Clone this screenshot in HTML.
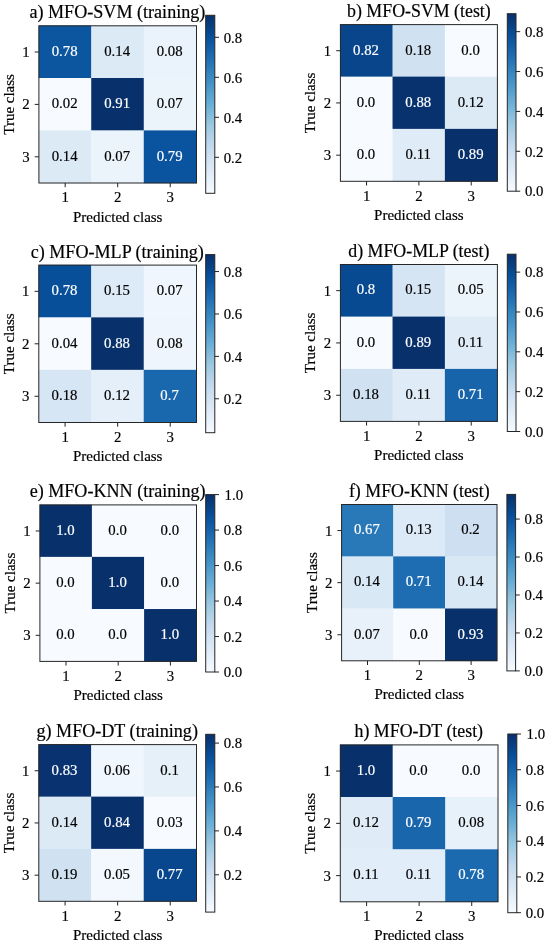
<!DOCTYPE html><html><head><meta charset="utf-8"><title>Confusion matrices</title>
<style>html,body{margin:0;padding:0;background:#fff}svg{display:block}text{font-family:'Liberation Serif', serif;fill:#000;stroke:#000;stroke-width:.18px}</style></head><body>
<svg width="550" height="945" viewBox="0 0 550 945">
<rect width="550" height="945" fill="#fff"/>
<defs>
<linearGradient id="g0" x1="0" y1="0" x2="0" y2="1"><stop offset="0.0000" stop-color="#08306b"/><stop offset="0.0625" stop-color="#084082"/><stop offset="0.1250" stop-color="#08509b"/><stop offset="0.1875" stop-color="#1460a8"/><stop offset="0.2500" stop-color="#2070b4"/><stop offset="0.3125" stop-color="#3181bd"/><stop offset="0.3750" stop-color="#4191c6"/><stop offset="0.4375" stop-color="#56a0ce"/><stop offset="0.5000" stop-color="#6aaed6"/><stop offset="0.5625" stop-color="#84bcdb"/><stop offset="0.6250" stop-color="#9dcae1"/><stop offset="0.6875" stop-color="#b2d2e8"/><stop offset="0.7500" stop-color="#c6dbef"/><stop offset="0.8125" stop-color="#d2e3f3"/><stop offset="0.8750" stop-color="#deebf7"/><stop offset="0.9375" stop-color="#eaf3fb"/><stop offset="1.0000" stop-color="#f7fbff"/></linearGradient>
<linearGradient id="g1" x1="0" y1="0" x2="0" y2="1"><stop offset="0.0000" stop-color="#08306b"/><stop offset="0.0625" stop-color="#084082"/><stop offset="0.1250" stop-color="#08509b"/><stop offset="0.1875" stop-color="#1460a8"/><stop offset="0.2500" stop-color="#2070b4"/><stop offset="0.3125" stop-color="#3181bd"/><stop offset="0.3750" stop-color="#4191c6"/><stop offset="0.4375" stop-color="#56a0ce"/><stop offset="0.5000" stop-color="#6aaed6"/><stop offset="0.5625" stop-color="#84bcdb"/><stop offset="0.6250" stop-color="#9dcae1"/><stop offset="0.6875" stop-color="#b2d2e8"/><stop offset="0.7500" stop-color="#c6dbef"/><stop offset="0.8125" stop-color="#d2e3f3"/><stop offset="0.8750" stop-color="#deebf7"/><stop offset="0.9375" stop-color="#eaf3fb"/><stop offset="1.0000" stop-color="#f7fbff"/></linearGradient>
<linearGradient id="g2" x1="0" y1="0" x2="0" y2="1"><stop offset="0.0000" stop-color="#08306b"/><stop offset="0.0625" stop-color="#084082"/><stop offset="0.1250" stop-color="#08509b"/><stop offset="0.1875" stop-color="#1460a8"/><stop offset="0.2500" stop-color="#2070b4"/><stop offset="0.3125" stop-color="#3181bd"/><stop offset="0.3750" stop-color="#4191c6"/><stop offset="0.4375" stop-color="#56a0ce"/><stop offset="0.5000" stop-color="#6aaed6"/><stop offset="0.5625" stop-color="#84bcdb"/><stop offset="0.6250" stop-color="#9dcae1"/><stop offset="0.6875" stop-color="#b2d2e8"/><stop offset="0.7500" stop-color="#c6dbef"/><stop offset="0.8125" stop-color="#d2e3f3"/><stop offset="0.8750" stop-color="#deebf7"/><stop offset="0.9375" stop-color="#eaf3fb"/><stop offset="1.0000" stop-color="#f7fbff"/></linearGradient>
<linearGradient id="g3" x1="0" y1="0" x2="0" y2="1"><stop offset="0.0000" stop-color="#08306b"/><stop offset="0.0625" stop-color="#084082"/><stop offset="0.1250" stop-color="#08509b"/><stop offset="0.1875" stop-color="#1460a8"/><stop offset="0.2500" stop-color="#2070b4"/><stop offset="0.3125" stop-color="#3181bd"/><stop offset="0.3750" stop-color="#4191c6"/><stop offset="0.4375" stop-color="#56a0ce"/><stop offset="0.5000" stop-color="#6aaed6"/><stop offset="0.5625" stop-color="#84bcdb"/><stop offset="0.6250" stop-color="#9dcae1"/><stop offset="0.6875" stop-color="#b2d2e8"/><stop offset="0.7500" stop-color="#c6dbef"/><stop offset="0.8125" stop-color="#d2e3f3"/><stop offset="0.8750" stop-color="#deebf7"/><stop offset="0.9375" stop-color="#eaf3fb"/><stop offset="1.0000" stop-color="#f7fbff"/></linearGradient>
<linearGradient id="g4" x1="0" y1="0" x2="0" y2="1"><stop offset="0.0000" stop-color="#08306b"/><stop offset="0.0625" stop-color="#084082"/><stop offset="0.1250" stop-color="#08509b"/><stop offset="0.1875" stop-color="#1460a8"/><stop offset="0.2500" stop-color="#2070b4"/><stop offset="0.3125" stop-color="#3181bd"/><stop offset="0.3750" stop-color="#4191c6"/><stop offset="0.4375" stop-color="#56a0ce"/><stop offset="0.5000" stop-color="#6aaed6"/><stop offset="0.5625" stop-color="#84bcdb"/><stop offset="0.6250" stop-color="#9dcae1"/><stop offset="0.6875" stop-color="#b2d2e8"/><stop offset="0.7500" stop-color="#c6dbef"/><stop offset="0.8125" stop-color="#d2e3f3"/><stop offset="0.8750" stop-color="#deebf7"/><stop offset="0.9375" stop-color="#eaf3fb"/><stop offset="1.0000" stop-color="#f7fbff"/></linearGradient>
<linearGradient id="g5" x1="0" y1="0" x2="0" y2="1"><stop offset="0.0000" stop-color="#08306b"/><stop offset="0.0625" stop-color="#084082"/><stop offset="0.1250" stop-color="#08509b"/><stop offset="0.1875" stop-color="#1460a8"/><stop offset="0.2500" stop-color="#2070b4"/><stop offset="0.3125" stop-color="#3181bd"/><stop offset="0.3750" stop-color="#4191c6"/><stop offset="0.4375" stop-color="#56a0ce"/><stop offset="0.5000" stop-color="#6aaed6"/><stop offset="0.5625" stop-color="#84bcdb"/><stop offset="0.6250" stop-color="#9dcae1"/><stop offset="0.6875" stop-color="#b2d2e8"/><stop offset="0.7500" stop-color="#c6dbef"/><stop offset="0.8125" stop-color="#d2e3f3"/><stop offset="0.8750" stop-color="#deebf7"/><stop offset="0.9375" stop-color="#eaf3fb"/><stop offset="1.0000" stop-color="#f7fbff"/></linearGradient>
<linearGradient id="g6" x1="0" y1="0" x2="0" y2="1"><stop offset="0.0000" stop-color="#08306b"/><stop offset="0.0625" stop-color="#084082"/><stop offset="0.1250" stop-color="#08509b"/><stop offset="0.1875" stop-color="#1460a8"/><stop offset="0.2500" stop-color="#2070b4"/><stop offset="0.3125" stop-color="#3181bd"/><stop offset="0.3750" stop-color="#4191c6"/><stop offset="0.4375" stop-color="#56a0ce"/><stop offset="0.5000" stop-color="#6aaed6"/><stop offset="0.5625" stop-color="#84bcdb"/><stop offset="0.6250" stop-color="#9dcae1"/><stop offset="0.6875" stop-color="#b2d2e8"/><stop offset="0.7500" stop-color="#c6dbef"/><stop offset="0.8125" stop-color="#d2e3f3"/><stop offset="0.8750" stop-color="#deebf7"/><stop offset="0.9375" stop-color="#eaf3fb"/><stop offset="1.0000" stop-color="#f7fbff"/></linearGradient>
<linearGradient id="g7" x1="0" y1="0" x2="0" y2="1"><stop offset="0.0000" stop-color="#08306b"/><stop offset="0.0625" stop-color="#084082"/><stop offset="0.1250" stop-color="#08509b"/><stop offset="0.1875" stop-color="#1460a8"/><stop offset="0.2500" stop-color="#2070b4"/><stop offset="0.3125" stop-color="#3181bd"/><stop offset="0.3750" stop-color="#4191c6"/><stop offset="0.4375" stop-color="#56a0ce"/><stop offset="0.5000" stop-color="#6aaed6"/><stop offset="0.5625" stop-color="#84bcdb"/><stop offset="0.6250" stop-color="#9dcae1"/><stop offset="0.6875" stop-color="#b2d2e8"/><stop offset="0.7500" stop-color="#c6dbef"/><stop offset="0.8125" stop-color="#d2e3f3"/><stop offset="0.8750" stop-color="#deebf7"/><stop offset="0.9375" stop-color="#eaf3fb"/><stop offset="1.0000" stop-color="#f7fbff"/></linearGradient>
</defs>
<g>
<text x="117.4" y="18.3" font-size="18.10" text-anchor="middle">a) MFO-SVM (training)</text>
<rect x="38.70" y="25.60" width="52.93" height="52.80" fill="#0c56a0"/>
<rect x="91.23" y="25.60" width="52.93" height="52.80" fill="#dceaf6"/>
<rect x="143.77" y="25.60" width="52.93" height="52.80" fill="#eaf2fb"/>
<rect x="38.70" y="78.00" width="52.93" height="52.80" fill="#f7fbff"/>
<rect x="91.23" y="78.00" width="52.93" height="52.80" fill="#08306b"/>
<rect x="143.77" y="78.00" width="52.93" height="52.80" fill="#ecf4fb"/>
<rect x="38.70" y="130.40" width="52.93" height="52.80" fill="#dceaf6"/>
<rect x="91.23" y="130.40" width="52.93" height="52.80" fill="#ecf4fb"/>
<rect x="143.77" y="130.40" width="52.93" height="52.80" fill="#0a539e"/>
<text x="64.6" y="55.8" font-size="14.80" text-anchor="middle" style="fill:#fff;stroke:#fff">0.78</text>
<text x="117.1" y="55.8" font-size="14.80" text-anchor="middle" style="fill:#000;stroke:#000">0.14</text>
<text x="169.6" y="55.8" font-size="14.80" text-anchor="middle" style="fill:#000;stroke:#000">0.08</text>
<text x="64.6" y="108.2" font-size="14.80" text-anchor="middle" style="fill:#000;stroke:#000">0.02</text>
<text x="117.1" y="108.2" font-size="14.80" text-anchor="middle" style="fill:#fff;stroke:#fff">0.91</text>
<text x="169.6" y="108.2" font-size="14.80" text-anchor="middle" style="fill:#000;stroke:#000">0.07</text>
<text x="64.6" y="160.6" font-size="14.80" text-anchor="middle" style="fill:#000;stroke:#000">0.14</text>
<text x="117.1" y="160.6" font-size="14.80" text-anchor="middle" style="fill:#000;stroke:#000">0.07</text>
<text x="169.6" y="160.6" font-size="14.80" text-anchor="middle" style="fill:#fff;stroke:#fff">0.79</text>
<rect x="38.90" y="25.80" width="157.60" height="157.20" fill="none" stroke="#262626" stroke-width="1.0"/>
<line x1="65.17" y1="183.00" x2="65.17" y2="187.20" stroke="#222" stroke-width="1"/>
<line x1="34.70" y1="52.00" x2="38.90" y2="52.00" stroke="#222" stroke-width="1"/>
<text x="65.2" y="202.2" font-size="14.80" text-anchor="middle">1</text>
<text x="29.6" y="57.0" font-size="14.80" text-anchor="end">1</text>
<line x1="117.70" y1="183.00" x2="117.70" y2="187.20" stroke="#222" stroke-width="1"/>
<line x1="34.70" y1="104.40" x2="38.90" y2="104.40" stroke="#222" stroke-width="1"/>
<text x="117.7" y="202.2" font-size="14.80" text-anchor="middle">2</text>
<text x="29.6" y="109.4" font-size="14.80" text-anchor="end">2</text>
<line x1="170.23" y1="183.00" x2="170.23" y2="187.20" stroke="#222" stroke-width="1"/>
<line x1="34.70" y1="156.80" x2="38.90" y2="156.80" stroke="#222" stroke-width="1"/>
<text x="170.2" y="202.2" font-size="14.80" text-anchor="middle">3</text>
<text x="29.6" y="161.8" font-size="14.80" text-anchor="end">3</text>
<text x="117.7" y="221.5" font-size="15.00" text-anchor="middle">Predicted class</text>
<text transform="translate(13.8 104.4) rotate(-90)" font-size="15.00" text-anchor="middle">True class</text>
<rect x="205.70" y="15.30" width="9.10" height="178.00" fill="url(#g0)" stroke="#262626" stroke-width="1.0"/>
<line x1="214.80" y1="157.30" x2="219.00" y2="157.30" stroke="#222" stroke-width="1"/>
<text x="223.7" y="162.5" font-size="14.80">0.2</text>
<line x1="214.80" y1="117.30" x2="219.00" y2="117.30" stroke="#222" stroke-width="1"/>
<text x="223.7" y="122.5" font-size="14.80">0.4</text>
<line x1="214.80" y1="77.30" x2="219.00" y2="77.30" stroke="#222" stroke-width="1"/>
<text x="223.7" y="82.5" font-size="14.80">0.6</text>
<line x1="214.80" y1="37.30" x2="219.00" y2="37.30" stroke="#222" stroke-width="1"/>
<text x="223.7" y="42.5" font-size="14.80">0.8</text>
</g>
<g>
<text x="418.9" y="16.9" font-size="17.85" text-anchor="middle">b) MFO-SVM (test)</text>
<rect x="340.20" y="24.40" width="52.73" height="52.63" fill="#08458a"/>
<rect x="392.53" y="24.40" width="52.73" height="52.63" fill="#d0e1f2"/>
<rect x="444.87" y="24.40" width="52.73" height="52.63" fill="#f7fbff"/>
<rect x="340.20" y="76.63" width="52.73" height="52.63" fill="#f7fbff"/>
<rect x="392.53" y="76.63" width="52.73" height="52.63" fill="#08326e"/>
<rect x="444.87" y="76.63" width="52.73" height="52.63" fill="#dceaf6"/>
<rect x="340.20" y="128.87" width="52.73" height="52.63" fill="#f7fbff"/>
<rect x="392.53" y="128.87" width="52.73" height="52.63" fill="#dfebf7"/>
<rect x="444.87" y="128.87" width="52.73" height="52.63" fill="#08306b"/>
<text x="366.0" y="54.5" font-size="14.80" text-anchor="middle" style="fill:#fff;stroke:#fff">0.82</text>
<text x="418.3" y="54.5" font-size="14.80" text-anchor="middle" style="fill:#000;stroke:#000">0.18</text>
<text x="470.6" y="54.5" font-size="14.80" text-anchor="middle" style="fill:#000;stroke:#000">0.0</text>
<text x="366.0" y="106.8" font-size="14.80" text-anchor="middle" style="fill:#000;stroke:#000">0.0</text>
<text x="418.3" y="106.8" font-size="14.80" text-anchor="middle" style="fill:#fff;stroke:#fff">0.88</text>
<text x="470.6" y="106.8" font-size="14.80" text-anchor="middle" style="fill:#000;stroke:#000">0.12</text>
<text x="366.0" y="159.0" font-size="14.80" text-anchor="middle" style="fill:#000;stroke:#000">0.0</text>
<text x="418.3" y="159.0" font-size="14.80" text-anchor="middle" style="fill:#000;stroke:#000">0.11</text>
<text x="470.6" y="159.0" font-size="14.80" text-anchor="middle" style="fill:#fff;stroke:#fff">0.89</text>
<rect x="340.40" y="24.60" width="157.00" height="156.70" fill="none" stroke="#262626" stroke-width="1.0"/>
<line x1="366.57" y1="181.30" x2="366.57" y2="185.50" stroke="#222" stroke-width="1"/>
<line x1="336.20" y1="50.72" x2="340.40" y2="50.72" stroke="#222" stroke-width="1"/>
<text x="366.6" y="200.5" font-size="14.80" text-anchor="middle">1</text>
<text x="331.1" y="55.7" font-size="14.80" text-anchor="end">1</text>
<line x1="418.90" y1="181.30" x2="418.90" y2="185.50" stroke="#222" stroke-width="1"/>
<line x1="336.20" y1="102.95" x2="340.40" y2="102.95" stroke="#222" stroke-width="1"/>
<text x="418.9" y="200.5" font-size="14.80" text-anchor="middle">2</text>
<text x="331.1" y="108.0" font-size="14.80" text-anchor="end">2</text>
<line x1="471.23" y1="181.30" x2="471.23" y2="185.50" stroke="#222" stroke-width="1"/>
<line x1="336.20" y1="155.18" x2="340.40" y2="155.18" stroke="#222" stroke-width="1"/>
<text x="471.2" y="200.5" font-size="14.80" text-anchor="middle">3</text>
<text x="331.1" y="160.2" font-size="14.80" text-anchor="end">3</text>
<text x="418.9" y="219.8" font-size="15.00" text-anchor="middle">Predicted class</text>
<text transform="translate(315.3 103.0) rotate(-90)" font-size="15.00" text-anchor="middle">True class</text>
<rect x="507.30" y="13.70" width="8.70" height="177.50" fill="url(#g1)" stroke="#262626" stroke-width="1.0"/>
<line x1="516.00" y1="191.20" x2="520.20" y2="191.20" stroke="#222" stroke-width="1"/>
<text x="524.9" y="196.4" font-size="14.80">0.0</text>
<line x1="516.00" y1="151.31" x2="520.20" y2="151.31" stroke="#222" stroke-width="1"/>
<text x="524.9" y="156.5" font-size="14.80">0.2</text>
<line x1="516.00" y1="111.42" x2="520.20" y2="111.42" stroke="#222" stroke-width="1"/>
<text x="524.9" y="116.6" font-size="14.80">0.4</text>
<line x1="516.00" y1="71.54" x2="520.20" y2="71.54" stroke="#222" stroke-width="1"/>
<text x="524.9" y="76.7" font-size="14.80">0.6</text>
<line x1="516.00" y1="31.65" x2="520.20" y2="31.65" stroke="#222" stroke-width="1"/>
<text x="524.9" y="36.8" font-size="14.80">0.8</text>
</g>
<g>
<text x="117.3" y="257.6" font-size="18.10" text-anchor="middle">c) MFO-MLP (training)</text>
<rect x="38.60" y="264.90" width="52.97" height="52.87" fill="#084f99"/>
<rect x="91.17" y="264.90" width="52.97" height="52.87" fill="#ddeaf7"/>
<rect x="143.73" y="264.90" width="52.97" height="52.87" fill="#f0f6fd"/>
<rect x="38.60" y="317.37" width="52.97" height="52.87" fill="#f7fbff"/>
<rect x="91.17" y="317.37" width="52.97" height="52.87" fill="#08306b"/>
<rect x="143.73" y="317.37" width="52.97" height="52.87" fill="#eef5fc"/>
<rect x="38.60" y="369.83" width="52.97" height="52.87" fill="#d6e6f4"/>
<rect x="91.17" y="369.83" width="52.97" height="52.87" fill="#e4eff9"/>
<rect x="143.73" y="369.83" width="52.97" height="52.87" fill="#1967ad"/>
<text x="64.5" y="295.1" font-size="14.80" text-anchor="middle" style="fill:#fff;stroke:#fff">0.78</text>
<text x="117.0" y="295.1" font-size="14.80" text-anchor="middle" style="fill:#000;stroke:#000">0.15</text>
<text x="169.6" y="295.1" font-size="14.80" text-anchor="middle" style="fill:#000;stroke:#000">0.07</text>
<text x="64.5" y="347.6" font-size="14.80" text-anchor="middle" style="fill:#000;stroke:#000">0.04</text>
<text x="117.0" y="347.6" font-size="14.80" text-anchor="middle" style="fill:#fff;stroke:#fff">0.88</text>
<text x="169.6" y="347.6" font-size="14.80" text-anchor="middle" style="fill:#000;stroke:#000">0.08</text>
<text x="64.5" y="400.1" font-size="14.80" text-anchor="middle" style="fill:#000;stroke:#000">0.18</text>
<text x="117.0" y="400.1" font-size="14.80" text-anchor="middle" style="fill:#000;stroke:#000">0.12</text>
<text x="169.6" y="400.1" font-size="14.80" text-anchor="middle" style="fill:#fff;stroke:#fff">0.7</text>
<rect x="38.80" y="265.10" width="157.70" height="157.40" fill="none" stroke="#262626" stroke-width="1.0"/>
<line x1="65.08" y1="422.50" x2="65.08" y2="426.70" stroke="#222" stroke-width="1"/>
<line x1="34.60" y1="291.33" x2="38.80" y2="291.33" stroke="#222" stroke-width="1"/>
<text x="65.1" y="441.7" font-size="14.80" text-anchor="middle">1</text>
<text x="29.5" y="296.3" font-size="14.80" text-anchor="end">1</text>
<line x1="117.65" y1="422.50" x2="117.65" y2="426.70" stroke="#222" stroke-width="1"/>
<line x1="34.60" y1="343.80" x2="38.80" y2="343.80" stroke="#222" stroke-width="1"/>
<text x="117.6" y="441.7" font-size="14.80" text-anchor="middle">2</text>
<text x="29.5" y="348.8" font-size="14.80" text-anchor="end">2</text>
<line x1="170.22" y1="422.50" x2="170.22" y2="426.70" stroke="#222" stroke-width="1"/>
<line x1="34.60" y1="396.27" x2="38.80" y2="396.27" stroke="#222" stroke-width="1"/>
<text x="170.2" y="441.7" font-size="14.80" text-anchor="middle">3</text>
<text x="29.5" y="401.3" font-size="14.80" text-anchor="end">3</text>
<text x="117.7" y="461.0" font-size="15.00" text-anchor="middle">Predicted class</text>
<text transform="translate(13.7 343.8) rotate(-90)" font-size="15.00" text-anchor="middle">True class</text>
<rect x="205.70" y="254.60" width="9.10" height="178.10" fill="url(#g2)" stroke="#262626" stroke-width="1.0"/>
<line x1="214.80" y1="398.78" x2="219.00" y2="398.78" stroke="#222" stroke-width="1"/>
<text x="223.7" y="404.0" font-size="14.80">0.2</text>
<line x1="214.80" y1="356.37" x2="219.00" y2="356.37" stroke="#222" stroke-width="1"/>
<text x="223.7" y="361.6" font-size="14.80">0.4</text>
<line x1="214.80" y1="313.97" x2="219.00" y2="313.97" stroke="#222" stroke-width="1"/>
<text x="223.7" y="319.2" font-size="14.80">0.6</text>
<line x1="214.80" y1="271.56" x2="219.00" y2="271.56" stroke="#222" stroke-width="1"/>
<text x="223.7" y="276.8" font-size="14.80">0.8</text>
</g>
<g>
<text x="418.8" y="256.9" font-size="17.85" text-anchor="middle">d) MFO-MLP (test)</text>
<rect x="340.20" y="264.30" width="52.73" height="52.70" fill="#084a91"/>
<rect x="392.53" y="264.30" width="52.73" height="52.70" fill="#d6e5f4"/>
<rect x="444.87" y="264.30" width="52.73" height="52.70" fill="#ecf4fb"/>
<rect x="340.20" y="316.60" width="52.73" height="52.70" fill="#f7fbff"/>
<rect x="392.53" y="316.60" width="52.73" height="52.70" fill="#08306b"/>
<rect x="444.87" y="316.60" width="52.73" height="52.70" fill="#dfebf7"/>
<rect x="340.20" y="368.90" width="52.73" height="52.70" fill="#d0e1f2"/>
<rect x="392.53" y="368.90" width="52.73" height="52.70" fill="#dfebf7"/>
<rect x="444.87" y="368.90" width="52.73" height="52.70" fill="#1764ab"/>
<text x="366.0" y="294.4" font-size="14.80" text-anchor="middle" style="fill:#fff;stroke:#fff">0.8</text>
<text x="418.3" y="294.4" font-size="14.80" text-anchor="middle" style="fill:#000;stroke:#000">0.15</text>
<text x="470.6" y="294.4" font-size="14.80" text-anchor="middle" style="fill:#000;stroke:#000">0.05</text>
<text x="366.0" y="346.8" font-size="14.80" text-anchor="middle" style="fill:#000;stroke:#000">0.0</text>
<text x="418.3" y="346.8" font-size="14.80" text-anchor="middle" style="fill:#fff;stroke:#fff">0.89</text>
<text x="470.6" y="346.8" font-size="14.80" text-anchor="middle" style="fill:#000;stroke:#000">0.11</text>
<text x="366.0" y="399.1" font-size="14.80" text-anchor="middle" style="fill:#000;stroke:#000">0.18</text>
<text x="418.3" y="399.1" font-size="14.80" text-anchor="middle" style="fill:#000;stroke:#000">0.11</text>
<text x="470.6" y="399.1" font-size="14.80" text-anchor="middle" style="fill:#fff;stroke:#fff">0.71</text>
<rect x="340.40" y="264.50" width="157.00" height="156.90" fill="none" stroke="#262626" stroke-width="1.0"/>
<line x1="366.57" y1="421.40" x2="366.57" y2="425.60" stroke="#222" stroke-width="1"/>
<line x1="336.20" y1="290.65" x2="340.40" y2="290.65" stroke="#222" stroke-width="1"/>
<text x="366.6" y="440.6" font-size="14.80" text-anchor="middle">1</text>
<text x="331.1" y="295.6" font-size="14.80" text-anchor="end">1</text>
<line x1="418.90" y1="421.40" x2="418.90" y2="425.60" stroke="#222" stroke-width="1"/>
<line x1="336.20" y1="342.95" x2="340.40" y2="342.95" stroke="#222" stroke-width="1"/>
<text x="418.9" y="440.6" font-size="14.80" text-anchor="middle">2</text>
<text x="331.1" y="347.9" font-size="14.80" text-anchor="end">2</text>
<line x1="471.23" y1="421.40" x2="471.23" y2="425.60" stroke="#222" stroke-width="1"/>
<line x1="336.20" y1="395.25" x2="340.40" y2="395.25" stroke="#222" stroke-width="1"/>
<text x="471.2" y="440.6" font-size="14.80" text-anchor="middle">3</text>
<text x="331.1" y="400.2" font-size="14.80" text-anchor="end">3</text>
<text x="418.9" y="459.9" font-size="15.00" text-anchor="middle">Predicted class</text>
<text transform="translate(315.3 342.9) rotate(-90)" font-size="15.00" text-anchor="middle">True class</text>
<rect x="507.30" y="254.20" width="8.70" height="177.30" fill="url(#g3)" stroke="#262626" stroke-width="1.0"/>
<line x1="516.00" y1="431.50" x2="520.20" y2="431.50" stroke="#222" stroke-width="1"/>
<text x="524.9" y="436.7" font-size="14.80">0.0</text>
<line x1="516.00" y1="391.66" x2="520.20" y2="391.66" stroke="#222" stroke-width="1"/>
<text x="524.9" y="396.9" font-size="14.80">0.2</text>
<line x1="516.00" y1="351.81" x2="520.20" y2="351.81" stroke="#222" stroke-width="1"/>
<text x="524.9" y="357.0" font-size="14.80">0.4</text>
<line x1="516.00" y1="311.97" x2="520.20" y2="311.97" stroke="#222" stroke-width="1"/>
<text x="524.9" y="317.2" font-size="14.80">0.6</text>
<line x1="516.00" y1="272.13" x2="520.20" y2="272.13" stroke="#222" stroke-width="1"/>
<text x="524.9" y="277.3" font-size="14.80">0.8</text>
</g>
<g>
<text x="117.6" y="496.7" font-size="18.10" text-anchor="middle">e) MFO-KNN (training)</text>
<rect x="39.70" y="504.70" width="52.60" height="52.57" fill="#08306b"/>
<rect x="91.90" y="504.70" width="52.60" height="52.57" fill="#f7fbff"/>
<rect x="144.10" y="504.70" width="52.60" height="52.57" fill="#f7fbff"/>
<rect x="39.70" y="556.87" width="52.60" height="52.57" fill="#f7fbff"/>
<rect x="91.90" y="556.87" width="52.60" height="52.57" fill="#08306b"/>
<rect x="144.10" y="556.87" width="52.60" height="52.57" fill="#f7fbff"/>
<rect x="39.70" y="609.03" width="52.60" height="52.57" fill="#f7fbff"/>
<rect x="91.90" y="609.03" width="52.60" height="52.57" fill="#f7fbff"/>
<rect x="144.10" y="609.03" width="52.60" height="52.57" fill="#08306b"/>
<text x="65.4" y="534.8" font-size="14.80" text-anchor="middle" style="fill:#fff;stroke:#fff">1.0</text>
<text x="117.6" y="534.8" font-size="14.80" text-anchor="middle" style="fill:#000;stroke:#000">0.0</text>
<text x="169.8" y="534.8" font-size="14.80" text-anchor="middle" style="fill:#000;stroke:#000">0.0</text>
<text x="65.4" y="586.9" font-size="14.80" text-anchor="middle" style="fill:#000;stroke:#000">0.0</text>
<text x="117.6" y="586.9" font-size="14.80" text-anchor="middle" style="fill:#fff;stroke:#fff">1.0</text>
<text x="169.8" y="586.9" font-size="14.80" text-anchor="middle" style="fill:#000;stroke:#000">0.0</text>
<text x="65.4" y="639.1" font-size="14.80" text-anchor="middle" style="fill:#000;stroke:#000">0.0</text>
<text x="117.6" y="639.1" font-size="14.80" text-anchor="middle" style="fill:#000;stroke:#000">0.0</text>
<text x="169.8" y="639.1" font-size="14.80" text-anchor="middle" style="fill:#fff;stroke:#fff">1.0</text>
<rect x="39.90" y="504.90" width="156.60" height="156.50" fill="none" stroke="#262626" stroke-width="1.0"/>
<line x1="66.00" y1="661.40" x2="66.00" y2="665.60" stroke="#222" stroke-width="1"/>
<line x1="35.70" y1="530.98" x2="39.90" y2="530.98" stroke="#222" stroke-width="1"/>
<text x="66.0" y="680.6" font-size="14.80" text-anchor="middle">1</text>
<text x="30.6" y="536.0" font-size="14.80" text-anchor="end">1</text>
<line x1="118.20" y1="661.40" x2="118.20" y2="665.60" stroke="#222" stroke-width="1"/>
<line x1="35.70" y1="583.15" x2="39.90" y2="583.15" stroke="#222" stroke-width="1"/>
<text x="118.2" y="680.6" font-size="14.80" text-anchor="middle">2</text>
<text x="30.6" y="588.1" font-size="14.80" text-anchor="end">2</text>
<line x1="170.40" y1="661.40" x2="170.40" y2="665.60" stroke="#222" stroke-width="1"/>
<line x1="35.70" y1="635.32" x2="39.90" y2="635.32" stroke="#222" stroke-width="1"/>
<text x="170.4" y="680.6" font-size="14.80" text-anchor="middle">3</text>
<text x="30.6" y="640.3" font-size="14.80" text-anchor="end">3</text>
<text x="118.2" y="699.9" font-size="15.00" text-anchor="middle">Predicted class</text>
<text transform="translate(14.8 583.1) rotate(-90)" font-size="15.00" text-anchor="middle">True class</text>
<rect x="205.70" y="494.60" width="9.10" height="177.40" fill="url(#g4)" stroke="#262626" stroke-width="1.0"/>
<line x1="214.80" y1="672.00" x2="219.00" y2="672.00" stroke="#222" stroke-width="1"/>
<text x="223.7" y="677.2" font-size="14.80">0.0</text>
<line x1="214.80" y1="636.52" x2="219.00" y2="636.52" stroke="#222" stroke-width="1"/>
<text x="223.7" y="641.7" font-size="14.80">0.2</text>
<line x1="214.80" y1="601.04" x2="219.00" y2="601.04" stroke="#222" stroke-width="1"/>
<text x="223.7" y="606.2" font-size="14.80">0.4</text>
<line x1="214.80" y1="565.56" x2="219.00" y2="565.56" stroke="#222" stroke-width="1"/>
<text x="223.7" y="570.8" font-size="14.80">0.6</text>
<line x1="214.80" y1="530.08" x2="219.00" y2="530.08" stroke="#222" stroke-width="1"/>
<text x="223.7" y="535.3" font-size="14.80">0.8</text>
<line x1="214.80" y1="494.60" x2="219.00" y2="494.60" stroke="#222" stroke-width="1"/>
<text x="224.6" y="499.8" font-size="14.80">1.0</text>
</g>
<g>
<text x="419.3" y="496.7" font-size="17.85" text-anchor="middle">f) MFO-KNN (test)</text>
<rect x="341.40" y="504.30" width="52.20" height="52.50" fill="#2979b9"/>
<rect x="393.20" y="504.30" width="52.20" height="52.50" fill="#dce9f6"/>
<rect x="445.00" y="504.30" width="52.20" height="52.50" fill="#cddff1"/>
<rect x="341.40" y="556.40" width="52.20" height="52.50" fill="#d9e8f5"/>
<rect x="393.20" y="556.40" width="52.20" height="52.50" fill="#1e6db2"/>
<rect x="445.00" y="556.40" width="52.20" height="52.50" fill="#d9e8f5"/>
<rect x="341.40" y="608.50" width="52.20" height="52.50" fill="#e8f1fa"/>
<rect x="393.20" y="608.50" width="52.20" height="52.50" fill="#f7fbff"/>
<rect x="445.00" y="608.50" width="52.20" height="52.50" fill="#08306b"/>
<text x="366.9" y="534.3" font-size="14.80" text-anchor="middle" style="fill:#fff;stroke:#fff">0.67</text>
<text x="418.7" y="534.3" font-size="14.80" text-anchor="middle" style="fill:#000;stroke:#000">0.13</text>
<text x="470.5" y="534.3" font-size="14.80" text-anchor="middle" style="fill:#000;stroke:#000">0.2</text>
<text x="366.9" y="586.4" font-size="14.80" text-anchor="middle" style="fill:#000;stroke:#000">0.14</text>
<text x="418.7" y="586.4" font-size="14.80" text-anchor="middle" style="fill:#fff;stroke:#fff">0.71</text>
<text x="470.5" y="586.4" font-size="14.80" text-anchor="middle" style="fill:#000;stroke:#000">0.14</text>
<text x="366.9" y="638.5" font-size="14.80" text-anchor="middle" style="fill:#000;stroke:#000">0.07</text>
<text x="418.7" y="638.5" font-size="14.80" text-anchor="middle" style="fill:#000;stroke:#000">0.0</text>
<text x="470.5" y="638.5" font-size="14.80" text-anchor="middle" style="fill:#fff;stroke:#fff">0.93</text>
<rect x="341.60" y="504.50" width="155.40" height="156.30" fill="none" stroke="#262626" stroke-width="1.0"/>
<line x1="367.50" y1="660.80" x2="367.50" y2="665.00" stroke="#222" stroke-width="1"/>
<line x1="337.40" y1="530.55" x2="341.60" y2="530.55" stroke="#222" stroke-width="1"/>
<text x="367.5" y="680.0" font-size="14.80" text-anchor="middle">1</text>
<text x="332.3" y="535.5" font-size="14.80" text-anchor="end">1</text>
<line x1="419.30" y1="660.80" x2="419.30" y2="665.00" stroke="#222" stroke-width="1"/>
<line x1="337.40" y1="582.65" x2="341.60" y2="582.65" stroke="#222" stroke-width="1"/>
<text x="419.3" y="680.0" font-size="14.80" text-anchor="middle">2</text>
<text x="332.3" y="587.6" font-size="14.80" text-anchor="end">2</text>
<line x1="471.10" y1="660.80" x2="471.10" y2="665.00" stroke="#222" stroke-width="1"/>
<line x1="337.40" y1="634.75" x2="341.60" y2="634.75" stroke="#222" stroke-width="1"/>
<text x="471.1" y="680.0" font-size="14.80" text-anchor="middle">3</text>
<text x="332.3" y="639.8" font-size="14.80" text-anchor="end">3</text>
<text x="419.3" y="699.3" font-size="15.00" text-anchor="middle">Predicted class</text>
<text transform="translate(316.5 582.6) rotate(-90)" font-size="15.00" text-anchor="middle">True class</text>
<rect x="506.90" y="494.40" width="8.70" height="176.50" fill="url(#g5)" stroke="#262626" stroke-width="1.0"/>
<line x1="515.60" y1="670.90" x2="519.80" y2="670.90" stroke="#222" stroke-width="1"/>
<text x="524.5" y="676.1" font-size="14.80">0.0</text>
<line x1="515.60" y1="632.94" x2="519.80" y2="632.94" stroke="#222" stroke-width="1"/>
<text x="524.5" y="638.1" font-size="14.80">0.2</text>
<line x1="515.60" y1="594.99" x2="519.80" y2="594.99" stroke="#222" stroke-width="1"/>
<text x="524.5" y="600.2" font-size="14.80">0.4</text>
<line x1="515.60" y1="557.03" x2="519.80" y2="557.03" stroke="#222" stroke-width="1"/>
<text x="524.5" y="562.2" font-size="14.80">0.6</text>
<line x1="515.60" y1="519.07" x2="519.80" y2="519.07" stroke="#222" stroke-width="1"/>
<text x="524.5" y="524.3" font-size="14.80">0.8</text>
</g>
<g>
<text x="117.2" y="736.6" font-size="18.10" text-anchor="middle">g) MFO-DT (training)</text>
<rect x="38.60" y="744.40" width="52.97" height="52.63" fill="#083370"/>
<rect x="91.17" y="744.40" width="52.97" height="52.63" fill="#f0f6fd"/>
<rect x="143.73" y="744.40" width="52.97" height="52.63" fill="#e6f0f9"/>
<rect x="38.60" y="796.63" width="52.97" height="52.63" fill="#dceaf6"/>
<rect x="91.17" y="796.63" width="52.97" height="52.63" fill="#08306b"/>
<rect x="143.73" y="796.63" width="52.97" height="52.63" fill="#f7fbff"/>
<rect x="38.60" y="848.87" width="52.97" height="52.63" fill="#d0e2f2"/>
<rect x="91.17" y="848.87" width="52.97" height="52.63" fill="#f2f8fd"/>
<rect x="143.73" y="848.87" width="52.97" height="52.63" fill="#08478d"/>
<text x="64.5" y="774.5" font-size="14.80" text-anchor="middle" style="fill:#fff;stroke:#fff">0.83</text>
<text x="117.0" y="774.5" font-size="14.80" text-anchor="middle" style="fill:#000;stroke:#000">0.06</text>
<text x="169.6" y="774.5" font-size="14.80" text-anchor="middle" style="fill:#000;stroke:#000">0.1</text>
<text x="64.5" y="826.8" font-size="14.80" text-anchor="middle" style="fill:#000;stroke:#000">0.14</text>
<text x="117.0" y="826.8" font-size="14.80" text-anchor="middle" style="fill:#fff;stroke:#fff">0.84</text>
<text x="169.6" y="826.8" font-size="14.80" text-anchor="middle" style="fill:#000;stroke:#000">0.03</text>
<text x="64.5" y="879.0" font-size="14.80" text-anchor="middle" style="fill:#000;stroke:#000">0.19</text>
<text x="117.0" y="879.0" font-size="14.80" text-anchor="middle" style="fill:#000;stroke:#000">0.05</text>
<text x="169.6" y="879.0" font-size="14.80" text-anchor="middle" style="fill:#fff;stroke:#fff">0.77</text>
<rect x="38.80" y="744.60" width="157.70" height="156.70" fill="none" stroke="#262626" stroke-width="1.0"/>
<line x1="65.08" y1="901.30" x2="65.08" y2="905.50" stroke="#222" stroke-width="1"/>
<line x1="34.60" y1="770.72" x2="38.80" y2="770.72" stroke="#222" stroke-width="1"/>
<text x="65.1" y="920.5" font-size="14.80" text-anchor="middle">1</text>
<text x="29.5" y="775.7" font-size="14.80" text-anchor="end">1</text>
<line x1="117.65" y1="901.30" x2="117.65" y2="905.50" stroke="#222" stroke-width="1"/>
<line x1="34.60" y1="822.95" x2="38.80" y2="822.95" stroke="#222" stroke-width="1"/>
<text x="117.6" y="920.5" font-size="14.80" text-anchor="middle">2</text>
<text x="29.5" y="828.0" font-size="14.80" text-anchor="end">2</text>
<line x1="170.22" y1="901.30" x2="170.22" y2="905.50" stroke="#222" stroke-width="1"/>
<line x1="34.60" y1="875.18" x2="38.80" y2="875.18" stroke="#222" stroke-width="1"/>
<text x="170.2" y="920.5" font-size="14.80" text-anchor="middle">3</text>
<text x="29.5" y="880.2" font-size="14.80" text-anchor="end">3</text>
<text x="117.7" y="939.8" font-size="15.00" text-anchor="middle">Predicted class</text>
<text transform="translate(13.7 823.0) rotate(-90)" font-size="15.00" text-anchor="middle">True class</text>
<rect x="205.70" y="734.30" width="9.10" height="177.80" fill="url(#g6)" stroke="#262626" stroke-width="1.0"/>
<line x1="214.80" y1="874.78" x2="219.00" y2="874.78" stroke="#222" stroke-width="1"/>
<text x="223.7" y="880.0" font-size="14.80">0.2</text>
<line x1="214.80" y1="830.88" x2="219.00" y2="830.88" stroke="#222" stroke-width="1"/>
<text x="223.7" y="836.1" font-size="14.80">0.4</text>
<line x1="214.80" y1="786.98" x2="219.00" y2="786.98" stroke="#222" stroke-width="1"/>
<text x="223.7" y="792.2" font-size="14.80">0.6</text>
<line x1="214.80" y1="743.08" x2="219.00" y2="743.08" stroke="#222" stroke-width="1"/>
<text x="223.7" y="748.3" font-size="14.80">0.8</text>
</g>
<g>
<text x="418.8" y="736.9" font-size="17.85" text-anchor="middle">h) MFO-DT (test)</text>
<rect x="340.10" y="744.70" width="52.97" height="52.70" fill="#08306b"/>
<rect x="392.67" y="744.70" width="52.97" height="52.70" fill="#f7fbff"/>
<rect x="445.23" y="744.70" width="52.97" height="52.70" fill="#f7fbff"/>
<rect x="340.10" y="797.00" width="52.97" height="52.70" fill="#dfecf7"/>
<rect x="392.67" y="797.00" width="52.97" height="52.70" fill="#1966ad"/>
<rect x="445.23" y="797.00" width="52.97" height="52.70" fill="#e7f1fa"/>
<rect x="340.10" y="849.30" width="52.97" height="52.70" fill="#e1edf8"/>
<rect x="392.67" y="849.30" width="52.97" height="52.70" fill="#e1edf8"/>
<rect x="445.23" y="849.30" width="52.97" height="52.70" fill="#1b69af"/>
<text x="366.0" y="774.8" font-size="14.80" text-anchor="middle" style="fill:#fff;stroke:#fff">1.0</text>
<text x="418.5" y="774.8" font-size="14.80" text-anchor="middle" style="fill:#000;stroke:#000">0.0</text>
<text x="471.1" y="774.8" font-size="14.80" text-anchor="middle" style="fill:#000;stroke:#000">0.0</text>
<text x="366.0" y="827.1" font-size="14.80" text-anchor="middle" style="fill:#000;stroke:#000">0.12</text>
<text x="418.5" y="827.1" font-size="14.80" text-anchor="middle" style="fill:#fff;stroke:#fff">0.79</text>
<text x="471.1" y="827.1" font-size="14.80" text-anchor="middle" style="fill:#000;stroke:#000">0.08</text>
<text x="366.0" y="879.4" font-size="14.80" text-anchor="middle" style="fill:#000;stroke:#000">0.11</text>
<text x="418.5" y="879.4" font-size="14.80" text-anchor="middle" style="fill:#000;stroke:#000">0.11</text>
<text x="471.1" y="879.4" font-size="14.80" text-anchor="middle" style="fill:#fff;stroke:#fff">0.78</text>
<rect x="340.30" y="744.90" width="157.70" height="156.90" fill="none" stroke="#262626" stroke-width="1.0"/>
<line x1="366.58" y1="901.80" x2="366.58" y2="906.00" stroke="#222" stroke-width="1"/>
<line x1="336.10" y1="771.05" x2="340.30" y2="771.05" stroke="#222" stroke-width="1"/>
<text x="366.6" y="921.0" font-size="14.80" text-anchor="middle">1</text>
<text x="331.0" y="776.0" font-size="14.80" text-anchor="end">1</text>
<line x1="419.15" y1="901.80" x2="419.15" y2="906.00" stroke="#222" stroke-width="1"/>
<line x1="336.10" y1="823.35" x2="340.30" y2="823.35" stroke="#222" stroke-width="1"/>
<text x="419.1" y="921.0" font-size="14.80" text-anchor="middle">2</text>
<text x="331.0" y="828.3" font-size="14.80" text-anchor="end">2</text>
<line x1="471.72" y1="901.80" x2="471.72" y2="906.00" stroke="#222" stroke-width="1"/>
<line x1="336.10" y1="875.65" x2="340.30" y2="875.65" stroke="#222" stroke-width="1"/>
<text x="471.7" y="921.0" font-size="14.80" text-anchor="middle">3</text>
<text x="331.0" y="880.6" font-size="14.80" text-anchor="end">3</text>
<text x="419.1" y="940.3" font-size="15.00" text-anchor="middle">Predicted class</text>
<text transform="translate(315.2 823.3) rotate(-90)" font-size="15.00" text-anchor="middle">True class</text>
<rect x="507.80" y="734.00" width="9.00" height="178.70" fill="url(#g7)" stroke="#262626" stroke-width="1.0"/>
<line x1="516.80" y1="912.70" x2="521.00" y2="912.70" stroke="#222" stroke-width="1"/>
<text x="525.7" y="917.9" font-size="14.80">0.0</text>
<line x1="516.80" y1="876.96" x2="521.00" y2="876.96" stroke="#222" stroke-width="1"/>
<text x="525.7" y="882.2" font-size="14.80">0.2</text>
<line x1="516.80" y1="841.22" x2="521.00" y2="841.22" stroke="#222" stroke-width="1"/>
<text x="525.7" y="846.4" font-size="14.80">0.4</text>
<line x1="516.80" y1="805.48" x2="521.00" y2="805.48" stroke="#222" stroke-width="1"/>
<text x="525.7" y="810.7" font-size="14.80">0.6</text>
<line x1="516.80" y1="769.74" x2="521.00" y2="769.74" stroke="#222" stroke-width="1"/>
<text x="525.7" y="774.9" font-size="14.80">0.8</text>
<line x1="516.80" y1="734.00" x2="521.00" y2="734.00" stroke="#222" stroke-width="1"/>
<text x="526.6" y="739.2" font-size="14.80">1.0</text>
</g>
</svg></body></html>
